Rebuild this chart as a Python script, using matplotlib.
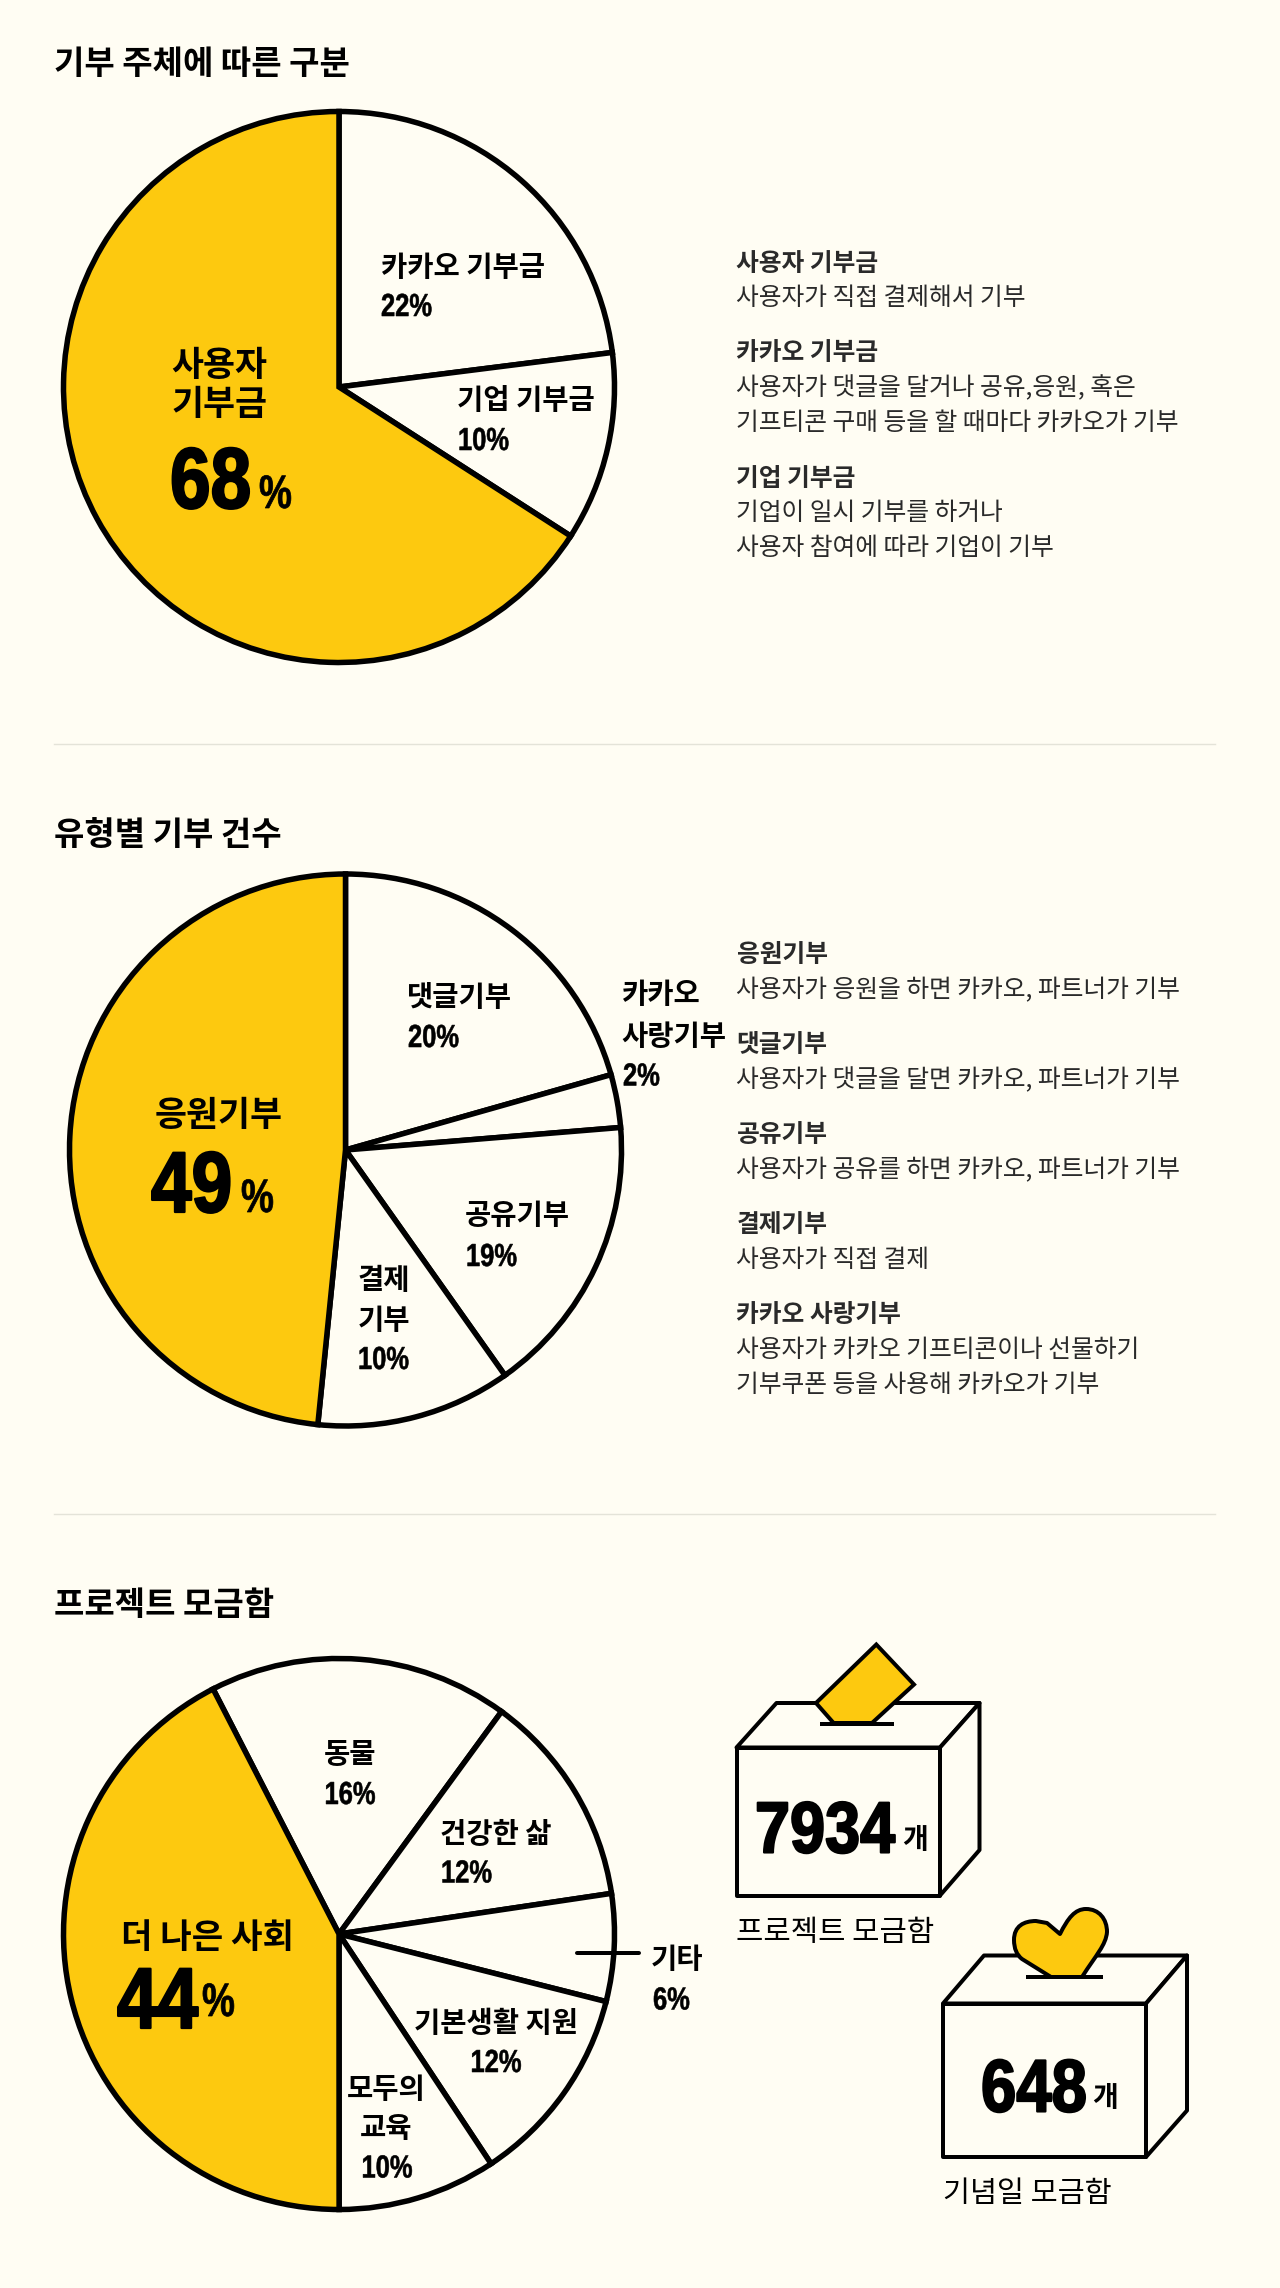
import matplotlib
matplotlib.use('Agg')
import matplotlib.pyplot as plt
import matplotlib.patheffects as pe
from matplotlib.patches import Polygon, PathPatch
from matplotlib.path import Path
from matplotlib.transforms import Affine2D

W, H = 1280, 2288
BG = '#FFFDF3'
YEL = '#FDC90F'
INK = '#000000'
KR = ['Noto Sans CJK KR', 'DejaVu Sans']
NUM = ['Liberation Sans', 'DejaVu Sans']

# Wedge shares as drawn in the picture, clockwise from the start angle
pie1_names = ['카카오 기부금', '기업 기부금', '사용자 기부금']
pie1_shares = [23.0, 11.1, 65.9]
pie2_names = ['댓글기부', '카카오 사랑기부', '공유기부', '결제기부', '응원기부']
pie2_shares = [20.6, 3.1, 16.5, 11.4, 48.4]
pie3_names = ['동물', '건강한 삶', '기타', '기본생활 지원', '모두의 교육', '더 나은 사회']
pie3_shares = [17.6, 12.6, 6.3, 11.75, 9.3, 42.45]

desc1 = [('사용자 기부금', True, 262), ('사용자가 직접 결제해서 기부', False, 296),
         ('카카오 기부금', True, 351), ('사용자가 댓글을 달거나 공유,응원, 혹은', False, 386),
         ('기프티콘 구매 등을 할 때마다 카카오가 기부', False, 421),
         ('기업 기부금', True, 477), ('기업이 일시 기부를 하거나', False, 511),
         ('사용자 참여에 따라 기업이 기부', False, 546)]
desc2 = [('응원기부', True, 953), ('사용자가 응원을 하면 카카오, 파트너가 기부', False, 988),
         ('댓글기부', True, 1043), ('사용자가 댓글을 달면 카카오, 파트너가 기부', False, 1078),
         ('공유기부', True, 1133), ('사용자가 공유를 하면 카카오, 파트너가 기부', False, 1168),
         ('결제기부', True, 1223), ('사용자가 직접 결제', False, 1258),
         ('카카오 사랑기부', True, 1313), ('사용자가 카카오 기프티콘이나 선물하기', False, 1348),
         ('기부쿠폰 등을 사용해 카카오가 기부', False, 1383)]

fig = plt.figure(figsize=(W / 100, H / 100), dpi=100, facecolor=BG)


def pie(cx, cy, R, shares, start, colors):
    pad = 1.03
    ax = fig.add_axes([(cx - R * pad) / W, 1 - (cy + R * pad) / H, 2 * R * pad / W, 2 * R * pad / H])
    ax.pie(shares, startangle=start, counterclock=False, colors=colors, radius=1,
           wedgeprops=dict(edgecolor=INK, linewidth=5.5 * 0.72, joinstyle='miter'))
    ax.set_xlim(-pad, pad)
    ax.set_ylim(-pad, pad)
    ax.axis('off')


pie(339, 387, 275.5, pie1_shares, 90, [BG, BG, YEL])
pie(345.5, 1150, 276, pie2_shares, 90, [BG, BG, BG, BG, YEL])
pie(339, 1934, 275.5, pie3_shares, 90 + 27.2, [BG, BG, BG, BG, BG, YEL])

ov = fig.add_axes([0, 0, 1, 1], zorder=5)
ov.set_xlim(0, W)
ov.set_ylim(H, 0)
ov.axis('off')
ov.patch.set_alpha(0)


class Tall(pe.AbstractPathEffect):
    """Draw the text taller around its baseline, with a thin outline."""

    def __init__(self, base_y, sy, stroke):
        super().__init__()
        self.base_y, self.sy, self.stroke = base_y, sy, stroke

    def draw_path(self, renderer, gc, tpath, affine, rgbFace):
        aff = affine + Affine2D().translate(0, -self.base_y).scale(1, self.sy).translate(0, self.base_y)
        gc0 = renderer.new_gc()
        gc0.copy_properties(gc)
        gc0.set_foreground(INK)
        gc0.set_linewidth(self.stroke)
        renderer.draw_path(gc0, tpath, aff, rgbFace)
        gc0.restore()


def kr(x, cy, s, size, bold=True, ha='left', color=INK):
    ov.text(x, cy + 0.36 * size, s, fontsize=size * 0.72, family=KR,
            fontweight='bold' if bold else 'regular', ha=ha, va='baseline', color=color)


def num(x, base, s, size, sy, stroke, ha='left'):
    t = ov.text(x, base, s, fontsize=size * 0.72, family=NUM, fontweight='bold',
                ha=ha, va='baseline', color=INK)
    base_y = ov.transData.transform((x, base))[1]
    t.set_path_effects([Tall(base_y, sy, stroke)])


def big(x, base, s):
    num(x, base, s, 73, 1.18, 1.6)


def pct(x, base):
    num(x, base, '%', 37, 1.27, 0.5)


def small(x, base, s, ha='left'):
    num(x, base, s, 25.5, 1.25, 0.4, ha=ha)


# Titles and separators
kr(54, 62, '기부 주체에 따른 구분', 33)
kr(54, 833, '유형별 기부 건수', 33)
kr(54, 1603, '프로젝트 모금함', 33)
for y in (744, 1513.5):
    ov.plot([54, 1215], [y, y], color='#E4E3D8', lw=1.0)

S = 28.6
# Pie 1 labels
kr(171.5, 363, '사용자', 34.8)
kr(171.5, 402, '기부금', 34.8)
big(170, 508, '68')
pct(259, 508)
kr(381, 266, '카카오 기부금', S)
small(381, 316, '22%')
kr(457, 399, '기업 기부금', S)
small(458, 450, '10%')

# Pie 2 labels
kr(155, 1113.5, '응원기부', 34.8)
big(151, 1212, '49')
pct(241, 1212)
kr(407, 996, '댓글기부', S)
small(408, 1047, '20%')
kr(622, 993, '카카오', S)
kr(621, 1034.5, '사랑기부', S)
small(623, 1085.5, '2%')
kr(465, 1214, '공유기부', S)
small(466, 1266, '19%')
kr(358, 1279, '결제', S)
kr(358, 1319, '기부', S)
small(358, 1369, '10%')

# Pie 3 labels
kr(121, 1936, '더 나은 사회', 34.2)
big(117, 2028, '44')
pct(202, 2016)
kr(350, 1753, '동물', S, ha='center')
small(350, 1804, '16%', ha='center')
kr(440, 1832.5, '건강한 삶', S)
small(441, 1882.5, '12%')
kr(495.5, 2022, '기본생활 지원', S, ha='center')
small(496, 2072, '12%', ha='center')
kr(386.5, 2088, '모두의', S, ha='center')
kr(386.5, 2127, '교육', S, ha='center')
small(387, 2177.5, '10%', ha='center')
kr(651, 1958, '기타', S)
small(653, 2009.5, '6%')
ov.plot([577, 639], [1953, 1953], color=INK, lw=4 * 0.72, solid_capstyle='round')

# Descriptions
for rows in (desc1, desc2):
    for s, b, y in rows:
        kr(736.5, y, s, 24.8, bold=b, color='#2A2A2A')

LW = 4 * 0.72


def box(front, back, slot, card):
    l, r, t, b = front
    bl, br, bt, bb = back
    kw = dict(closed=True, fc=BG, ec=INK, lw=LW, joinstyle='round', zorder=1)
    ov.add_patch(Polygon([(l, t), (bl, bt), (br, bt), (r, t)], **kw))
    ov.add_patch(Polygon([(r, t), (br, bt), (br, bb), (r, b)], **kw))
    ov.add_patch(Polygon([(l, t), (r, t), (r, b), (l, b)], **kw))
    ov.add_patch(card)
    ov.plot(slot[:2], [slot[2], slot[2]], color=INK, lw=LW, solid_capstyle='butt', zorder=3)


card1 = Polygon([(816, 1703), (876.3, 1644.5), (914, 1684.5), (872, 1723), (833.6, 1723)], closed=True,
                fc=YEL, ec=INK, lw=LW, joinstyle='miter', zorder=2)
box((736.5, 940, 1747.5, 1895.5), (776.5, 979.5, 1703, 1850), (819.5, 893.5, 1723.5), card1)

heart_v = [(1051, 1977), (1022, 1959),
           (1014, 1953), (1014, 1940),
           (1014, 1926), (1024, 1921), (1036, 1921),
           (1047, 1923), (1060, 1934),
           (1068, 1918), (1075, 1909), (1086, 1909),
           (1099, 1909), (1107, 1919), (1107, 1932),
           (1106, 1945), (1096, 1955), (1082, 1977),
           (1051, 1977)]
heart_c = [Path.MOVETO, Path.LINETO,
           Path.CURVE3, Path.CURVE3,
           Path.CURVE4, Path.CURVE4, Path.CURVE4,
           Path.LINETO, Path.LINETO,
           Path.CURVE4, Path.CURVE4, Path.CURVE4,
           Path.CURVE4, Path.CURVE4, Path.CURVE4,
           Path.CURVE4, Path.CURVE4, Path.CURVE4,
           Path.CLOSEPOLY]
heart = PathPatch(Path(heart_v, heart_c), fc=YEL, ec=INK, lw=LW, joinstyle='round', zorder=2)
box((943, 1146, 2003.5, 2157), (984, 1187, 1955.5, 2110.5), (1025.5, 1103, 1977), heart)

num(755, 1852.5, '7934', 63, 1.15, 1.5)
kr(902, 1838, '개', 28, bold=True)
num(981, 2111.5, '648', 63.5, 1.17, 1.5)
kr(1092, 2096, '개', 28, bold=True)
kr(736, 1930.5, '프로젝트 모금함', 29.7, bold=False)
kr(943, 2191.5, '기념일 모금함', 29.4, bold=False)

fig.savefig('out.png', dpi=100, facecolor=BG)
